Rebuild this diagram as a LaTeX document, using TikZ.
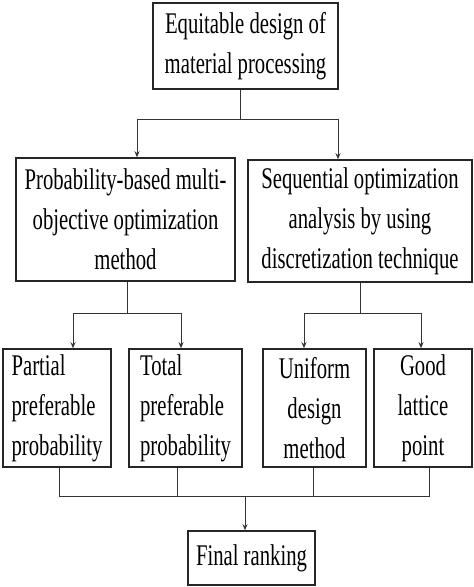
\documentclass[tikz,border=0pt]{standalone}
\usepackage{fontspec}
\setmainfont{Liberation Serif}[FakeStretch=0.69]
\usetikzlibrary{arrows.meta}

\begin{document}
\begin{tikzpicture}[x=1pt, y=-1pt, >={Stealth[length=6pt,width=5pt]},
    box/.style={draw=black!85, line width=1.6pt, inner sep=0pt, align=center},
    wire/.style={draw=black!80, line width=1pt},
    font=\fontsize{30}{40}\selectfont]
    \useasboundingbox (0,0) rectangle (474,587);

    % top level
    \node [box, minimum width=185pt, minimum height=86pt] (design) at (245.5,46) {Equitable design of\\material processing};

    % two methods
    \node [box, minimum width=219pt, minimum height=123pt] (prob) at (125.5,219.5) {Probability-based multi-\\objective optimization\\method};
    \node [box, minimum width=224pt, minimum height=122pt] (seq) at (360,221) {Sequential optimization\\analysis by using\\discretization technique};

    % sub methods
    \node [box, minimum width=108pt, minimum height=118pt, align=left] (partial) at (57,408) {Partial\\preferable\\probability};
    \node [box, minimum width=113pt, minimum height=118pt, align=left] (total) at (185.5,408) {Total\\preferable\\probability};
    \node [box, minimum width=103pt, minimum height=118pt] (uniform) at (314.5,408) {Uniform\\design\\method};
    \node [box, minimum width=98pt, minimum height=118pt] (lattice) at (423,408) {Good\\lattice\\point};

    \node [box, minimum width=127pt, minimum height=54pt] (rank) at (251.5,558) {Final ranking};

    % connectors
    \coordinate (j1) at (240,119);
    \draw [wire] (j1 |- design.south) -- (j1);
    \draw [wire, ->] (j1) -| ([xshift=11.5pt]prob.north);
    \draw [wire, ->] (j1) -| ([xshift=-22pt]seq.north);

    \coordinate (j2) at (127,313);
    \draw [wire] (j2 |- prob.south) -- (j2);
    \draw [wire, ->] (j2) -| ([xshift=16pt]partial.north);
    \draw [wire, ->] (j2) -| ([xshift=-4.5pt]total.north);

    \coordinate (j3) at (360,313);
    \draw [wire] (j3 |- seq.south) -- (j3);
    \draw [wire, ->] (j3) -| ([xshift=-10.5pt]uniform.north);
    \draw [wire, ->] (j3) -| ([xshift=-2pt]lattice.north);

    \coordinate (j4) at (245,496);
    \draw [wire] ([xshift=2pt]partial.south) |- (j4);
    \draw [wire] ([xshift=6pt]lattice.south) |- (j4);
    \draw [wire] ([xshift=-8.5pt]total.south) -- ++(0,29);
    \draw [wire] ([xshift=-1.5pt]uniform.south) -- ++(0,29);
    \draw [wire, ->] (j4) -- (j4 |- rank.north);
\end{tikzpicture}
\end{document}
